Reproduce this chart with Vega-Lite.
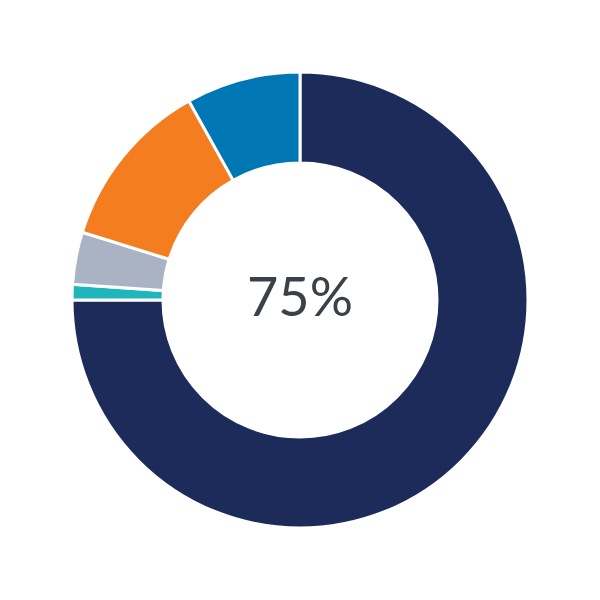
{
  "$schema": "https://vega.github.io/schema/vega-lite/v6.json",
  "width": 600,
  "height": 600,
  "autosize": {"type": "fit", "contains": "padding"},
  "padding": 0,
  "background": "white",
  "config": {"view": {"stroke": null}},
  "data": {
    "values": [
      {"segment": "A", "value": 75, "rank": 1},
      {"segment": "B", "value": 1.1, "rank": 2},
      {"segment": "C", "value": 3.7, "rank": 3},
      {"segment": "D", "value": 12.1, "rank": 4},
      {"segment": "E", "value": 8.1, "rank": 5}
    ]
  },
  "layer": [
    {
      "mark": {"type": "arc", "outerRadius": 228, "innerRadius": 137, "stroke": "white", "strokeWidth": 3},
      "encoding": {
        "theta": {"field": "value", "type": "quantitative", "stack": true},
        "order": {"field": "rank", "type": "quantitative"},
        "color": {
          "field": "segment",
          "type": "nominal",
          "scale": {
            "domain": ["A", "B", "C", "D", "E"],
            "range": ["#1c2b5a", "#1fb5bd", "#a9b3c3", "#f47d20", "#0077b5"]
          },
          "legend": null
        }
      }
    },
    {
      "data": {"values": [{"label": "75%"}]},
      "mark": {"type": "text", "fontSize": 54, "font": "Lato", "color": "#3a4149", "align": "center", "baseline": "middle", "dy": 0},
      "encoding": {
        "text": {"field": "label"}
      }
    }
  ]
}
